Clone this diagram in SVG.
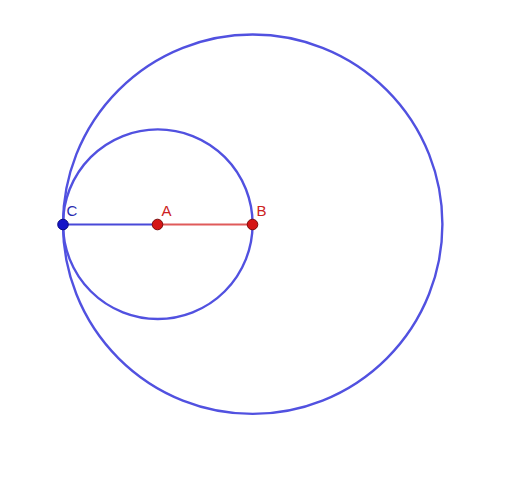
<svg xmlns="http://www.w3.org/2000/svg" width="508" height="478" viewBox="0 0 508 478">
<style>
.circ{fill:none;stroke:#5151e0;stroke-width:2.4}
.lbl{font-family:"Liberation Sans",Arial,sans-serif;font-size:15px}
.pt{stroke-width:1}
</style>
<rect width="508" height="478" fill="#fff"/>
<g id="connectors">
<circle id="bigCircle" class="circ" cx="252.7" cy="224.2" r="189.7"/>
<circle id="smallCircle" class="circ" cx="157.8" cy="224.2" r="94.8"/>
<line x1="63" y1="224.5" x2="157.5" y2="224.5" stroke="#4848d8" stroke-width="2"/>
<line x1="157.5" y1="224.5" x2="252.5" y2="224.5" stroke="#e05a5a" stroke-width="2"/>
</g>
<g id="C">
<circle class="pt" cx="63" cy="224.5" r="5.3" fill="#1515c8" stroke="#0a0a80"/>
<text class="lbl" x="66.5" y="215.5" fill="#2a2ab0">C</text>
</g>
<g id="A">
<circle class="pt" cx="157.5" cy="224.5" r="5.3" fill="#d51515" stroke="#7a0a0a"/>
<text class="lbl" x="161.5" y="215.5" fill="#cc2222">A</text>
</g>
<g id="B">
<circle class="pt" cx="252.5" cy="224.5" r="5.3" fill="#d51515" stroke="#7a0a0a"/>
<text class="lbl" x="256.5" y="215.5" fill="#cc2222">B</text>
</g>
</svg>
